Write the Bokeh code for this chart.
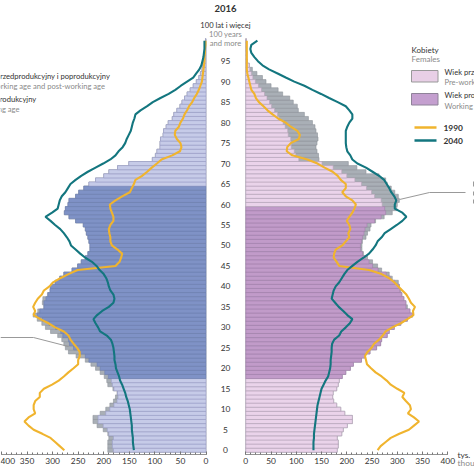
from bokeh.embed import file_html
from bokeh.resources import INLINE
from bokeh.plotting import figure
from bokeh.models import Range1d, LinearAxis, FixedTicker, ColumnDataSource

ages = list(range(101))
male_2016 = [192,192,192,190,192,201,213,221,221,207,196,188,181,177,174,182,192,194,199,207,
 216,225,236,254,269,275,278,282,290,304,314,321,330,338,329,317,320,319,310,305,
 304,295,286,278,262,251,244,236,231,227,227,229,231,234,236,240,255,268,277,275,
 270,268,255,249,239,229,216,200,190,173,151,105,99,96,90,90,89,84,83,78,
 74,66,63,57,51,47,42,37,31,25,19,14,11,8,7,5,3,2,2,1,1]
female_2016 = [181,183,183,181,190,193,201,211,211,196,188,180,174,172,173,180,183,185,191,198,
 207,213,229,236,246,259,267,269,280,284,294,307,320,330,325,320,317,313,309,307,
 304,302,290,284,269,261,251,241,233,230,230,231,238,241,246,248,257,274,290,299,
 300,304,302,295,288,280,277,264,238,220,203,145,144,141,139,141,143,142,139,137,
 132,124,116,104,102,94,87,73,64,50,40,33,22,13,7,3,2,2,1,1,1]
male_1990 = [277,286,295,304,320,337,347,355,347,334,337,337,334,325,325,317,301,288,278,269,
 259,250,250,247,247,252,259,265,269,278,295,308,324,337,334,338,334,329,321,317,
 306,299,285,269,251,177,169,166,164,173,184,187,187,189,190,187,181,181,184,187,
 188,177,164,149,145,141,138,125,115,106,96,87,66,51,48,50,57,61,60,53,
 50,45,42,37,33,27,23,18,14,11,8,7,6,5,4,3,3,2,2,1,1]
female_1990 = [261,267,277,287,304,323,333,343,333,321,327,325,317,310,314,300,287,279,269,257,
 248,240,238,236,241,249,254,264,271,277,290,307,320,332,331,335,327,323,318,310,
 302,294,284,269,244,185,180,174,175,178,191,198,205,203,207,205,200,205,211,215,
 218,211,198,191,198,198,188,182,172,156,142,122,92,81,82,89,105,107,102,89,
 79,64,53,43,35,26,20,17,11,9,7,5,3,2,2,2,2,2,2,2,2]
male_2040 = [141,142,143,143,144,145,145,146,147,148,149,151,153,156,158,161,164,168,170,173,
 176,177,179,179,180,181,183,186,194,207,211,216,220,213,203,190,181,179,181,187,
 190,192,195,200,208,214,223,236,246,255,264,267,272,278,285,295,304,314,301,290,
 288,286,282,275,270,265,255,244,231,216,201,187,177,171,163,158,155,151,147,145,
 143,140,138,128,115,104,89,73,60,49,37,25,19,13,9,7,5,4,3,3,3]
female_2040 = [134,134,134,135,135,136,137,138,139,140,141,142,144,146,148,150,154,158,163,165,
 167,168,168,169,170,170,171,175,185,189,198,206,211,201,193,184,177,170,172,174,
 178,185,190,195,201,211,221,233,244,251,257,261,269,275,287,299,310,318,310,295,
 295,298,294,288,284,279,274,264,251,238,221,211,207,201,199,198,198,198,198,201,
 205,211,211,205,198,182,165,149,132,116,96,79,63,46,33,24,17,11,9,11,23]
axis_ticks = [0,50,100,150,200,250,300,350,400]
minor_ticks = list(range(0,401,10))
age_labels = [0,5,10,15,20,25,30,35,40,45,50,55,60,65,70,75,80,85,90,95]

FONT = {"value": "Lato"}
DARK, GREY = "#333333", "#8a8a8a"

p = figure(width=474, height=474, output_backend="svg", toolbar_location=None,
           x_range=Range1d(0,474), y_range=Range1d(474,0), x_axis_type=None, y_axis_type=None,
           min_border=0, outline_line_color=None, margin=0)
p.grid.visible = False
p.extra_x_ranges = {"men": Range1d(205.5/0.5114, (205.5-474)/0.5114),
                    "women": Range1d(-245.3/0.505, (474-245.3)/0.505)}
p.extra_y_ranges = {"age": Range1d((449.7-474)/4.095, 449.7/4.095)}

common = [min(a,b) for a,b in zip(male_2016, female_2016)]
def colors(light, dark, hi):
    return [dark if 18 <= a <= hi else light for a in ages]

for side, total, fills, lines in [
    ("men", male_2016, colors("#c6cbe8","#7f92c6",64), colors("#9a9ec8","#6d7fb0",64)),
    ("women", female_2016, colors("#ead3ea","#c19bc9",59), colors("#b5a2b8","#a180ab",59))]:
    p.hbar(y="a", left=0, right="t", height=1, source=ColumnDataSource(dict(a=ages,t=total)),
           x_range_name=side, y_range_name="age", fill_color="#a9afb6", line_color="#8e949b", line_width=0.6)
    p.hbar(y="a", left=0, right="c", height=1, source=ColumnDataSource(dict(a=ages,c=common,f=fills,l=lines)),
           x_range_name=side, y_range_name="age", fill_color="f", line_color="l", line_width=0.6)

YEL, TEAL = "#f0b42e", "#13767f"
p.line(male_1990, ages, x_range_name="men", y_range_name="age", line_color=YEL, line_width=2.1)
p.line(female_1990, ages, x_range_name="women", y_range_name="age", line_color=YEL, line_width=2.1)
p.line(male_2040, ages, x_range_name="men", y_range_name="age", line_color=TEAL, line_width=2.1)
p.line(female_2040, ages, x_range_name="women", y_range_name="age", line_color=TEAL, line_width=2.1)

for side in ("men","women"):
    ax = LinearAxis(x_range_name=side, fixed_location=-1.05, bounds=(0,400),
                    ticker=FixedTicker(ticks=axis_ticks, minor_ticks=minor_ticks),
                    major_tick_in=3, major_tick_out=0, minor_tick_in=2, minor_tick_out=0,
                    major_tick_line_color="#777777", minor_tick_line_color="#777777",
                    axis_line_color="#777777", axis_line_width=0.8,
                    major_label_text_font="Lato", major_label_text_font_size="8.4px",
                    major_label_text_color=DARK, major_label_standoff=4)
    ax.y_range_name = "age"
    p.add_layout(ax, "below")

# centre column
p.text([225]*len(age_labels), age_labels, text=[str(a) for a in age_labels], y_range_name="age",
       text_font=FONT, text_font_size="8.4px", text_color=DARK, text_align="center", text_baseline="middle")
def t(x, y, s, color=DARK, align="left", size="7.6px", style="normal"):
    p.text([x],[y],text=[s],text_font=FONT,text_font_size=size,text_color=color,text_align=align,
           text_baseline="middle",text_font_style=style)
t(225,8,"2016",align="center",style="bold",size="9.5px")
t(225,24,"100 lat i więcej",align="center")
t(225,33,"100 years",GREY,"center")
t(225,42,"and more",GREY,"center")
# left legend
t(109.5,75,"Wiek przedprodukcyjny i poprodukcyjny",align="right")
t(104.5,85,"Pre-working age and post-working age",GREY,"right")
t(35.7,98,"Wiek produkcyjny",align="right")
t(19,108,"Working age",GREY,"right")
# right legend
t(411,49,"Kobiety",size="8px")
t(411,58,"Females",GREY,size="8px")
p.quad(left=[411],right=[437.5],top=[70],bottom=[81.5],fill_color="#e8cfe6",line_color="#999999",line_width=1)
p.quad(left=[411],right=[437.5],top=[93],bottom=[104.5],fill_color="#c49fcf",line_color="#8f8299",line_width=1)
t(444,71,"Wiek przedprodukcyjny i poprodukcyjny")
t(444,81,"Pre-working age and post-working age",GREY)
t(444,94,"Wiek produkcyjny")
t(444,105,"Working age",GREY)
p.line([414,436],[127,127],line_color=YEL,line_width=2.4)
p.line([414,436],[140,140],line_color=TEAL,line_width=2.4)
t(443,127,"1990",style="bold",size="8.4px")
t(443,140,"2040",style="bold",size="8.4px")
t(457,454,"tys.",size="8.4px")
t(457,462.5,"thous.",GREY,size="8.4px")
# leader lines and cut-off swatches
p.line([399,429,465],[199,192,192],line_color="#999999",line_width=1)
p.line([0,33,68],[337,337,346],line_color="#999999",line_width=1)
p.quad(left=[472.5]*3,right=[476]*3,top=[181,191,199],bottom=[186,195,203],fill_color="#9a9a9a",line_color=None)

open("out.html","w").write(file_html(p, INLINE))
